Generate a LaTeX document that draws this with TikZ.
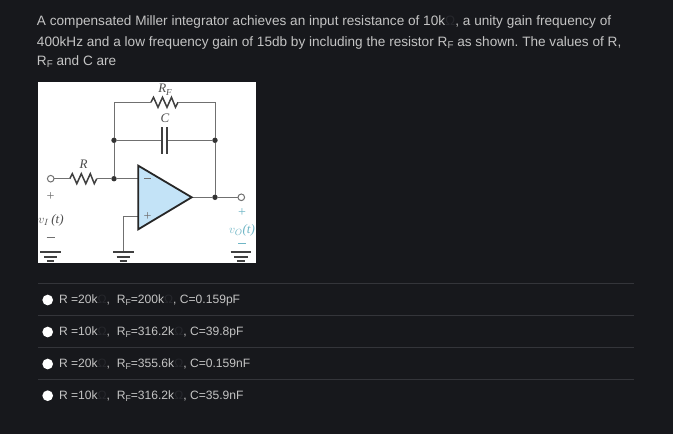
\documentclass[tikz,border=0pt]{standalone}
\usepackage{xcolor}
\usepackage{fontspec}
\setmainfont{Liberation Sans}
\newfontfamily\circuitfont{Liberation Serif}
\usetikzlibrary{positioning,%
  calc%
}
\frenchspacing
\definecolor{pagebg}{HTML}{17181C}
\definecolor{bodytext}{HTML}{C4C4C4}
\definecolor{ohmtext}{HTML}{26272C}
\definecolor{rulegrey}{HTML}{34353A}
\definecolor{wiregrey}{HTML}{707070}
\definecolor{opampblue}{HTML}{C3E3F7}
\definecolor{outteal}{HTML}{6FB6C6}
\newcommand{\rsubf}{R\raisebox{-.2em}{\scalebox{.72}{F}}}
\newcommand{\ohm}{\textcolor{ohmtext}{Ω}}
\tikzset{
  zigres/.pic={
    \coordinate (-w) at (-13.5,0);
    \coordinate (-e) at (13.5,0);
    \draw[line width=1.5pt,black!75] (-13.5,0) -- (-11,-5) -- (-6.5,5) -- (-2,-5) -- (2.5,5) -- (7,-5) -- (11,5) -- (13.5,0);
  },
  earth/.pic={
    \draw[line width=1.7pt,black!75] (-10.3,0) -- (10.3,0);
    \draw[line width=1.7pt,black!75] (-6.7,5) -- (6.7,5);
    \draw[line width=1.7pt,black!75] (-3.7,9.5) -- (3.7,9.5);
  }
}
\begin{document}
\begin{tikzpicture}
                    [
                        x=1pt,y=-1pt,
                        every node/.style={inner sep=0pt,outer sep=0pt},
                        wire/.style={draw=wiregrey,line width=1pt},
                        junction/.style={circle,fill=black!80,minimum size=5.4pt},
                        terminal/.style={circle,draw=wiregrey,fill=white,line width=1pt,minimum size=6.6pt},
                        question/.style={anchor=base west,text=bodytext,font=\fontsize{13.6}{16}\selectfont},
                        answer/.style={anchor=base west,text=bodytext,font=\fontsize{12.1}{14}\selectfont},
                        radio/.style={circle,fill=white,minimum size=10.7pt},
                        sep/.style={draw=rulegrey,line width=.7pt},
                        part/.style={text=black!70,font=\circuitfont\itshape\fontsize{13}{15}\selectfont},
                        sign/.style={text=wiregrey,font=\circuitfont\fontsize{14}{15}\selectfont}
                    ]

                    % page and white panel
                    \path[fill=pagebg] (0,0) rectangle (673,434);
                    \path[fill=white] (38,82) rectangle (256,263);
                    \useasboundingbox (0,0) rectangle (673,434);

                    \node[question] (line1) at (37,25) {A compensated Miller integrator achieves an input resistance of 10k\ohm, a unity gain frequency of};
                    \node[question] (line2) at (37,46) {400kHz and a low frequency gain of 15db by including the resistor \rsubf{} as shown. The values of R,};
                    \node[question] (line3) at (37,65) {\rsubf{} and C are};

                    % circuit
                    \coordinate (oatop) at (138.3,165.7);
                    \coordinate (oabot) at (138.3,229.3);
                    \coordinate (oatip) at (191.7,197.3);
                    \coordinate (minus) at (138.3,178.7);
                    \coordinate (plus) at (138.3,216.7);
                    \coordinate (plusc) at (123.3,216.7);
                    \coordinate (fbtl) at (114,102.3);
                    \coordinate (fbtr) at (215,102.3);
                    \coordinate (capl) at (161.7,140.3);
                    \coordinate (capr) at (167.3,140.3);
                    \coordinate (gndop) at (123.3,251.7);

                    \node[terminal] (vin) at (50.7,178.7) {};
                    \node[terminal] (vout) at (241.3,197.3) {};
                    \node[junction] (jin) at (114,178.7) {};
                    \node[junction] (jcl) at (114,140.3) {};
                    \node[junction] (jcr) at (215,140.3) {};
                    \node[junction] (jout) at (215,197.3) {};
                    \pic (rin) at (83.3,178.7) {zigres};
                    \pic (rfb) at (164.5,102.3) {zigres};

                    \draw[wire] (vin) -- (rin-w);
                    \draw[wire] (rin-e) -- (jin);
                    \draw[wire] (jin) -- (minus);
                    \draw[wire] (jin) -- (jcl);
                    \draw[wire] (jcl) -- (fbtl) -- (rfb-w);
                    \draw[wire] (rfb-e) -- (fbtr) -- (jcr);
                    \draw[wire] (jcr) -- (jout);
                    \draw[wire] (jcl) -- (capl);
                    \draw[wire] (capr) -- (jcr);
                    \draw[wire] (oatip) -- (jout);
                    \draw[wire] (jout) -- (vout);
                    \draw[wire] (plus) -- (plusc) -- (gndop);

                    \draw[line width=1.8pt,black!75] (capl)+(0,-13) -- +(0,13.4);
                    \draw[line width=1.8pt,black!75] (capr)+(0,-13) -- +(0,13.4);

                    \draw[line width=1.8pt,draw=black!85,fill=opampblue,line join=miter] (oatop) -- (oatip) -- (oabot) -- cycle;
                    \node[sign] (mns) at (147.5,178.5) {\rule{7pt}{1pt}};
                    \node[sign] (pls) at (147.5,216.5) {+};

                    \pic at (50.7,251.7) {earth};
                    \pic at (123.3,251.7) {earth};
                    \pic at (241,251.7) {earth};

                    \node[part,anchor=base] (lblrf) at (165,92.5) {R\raisebox{-.2em}{\scalebox{.7}{F}}};
                    \node[part] (lblc) at (165,118) {C};
                    \node[part] (lblr) at (83.5,164) {R};
                    \node[sign] (vip) at (50.5,197) {+};
                    \node[part] (lblvi) at (51,220.5) {$v_{I}$\,(\textit{t})};
                    \node[sign] (vim) at (50.5,237) {\rule{8pt}{.9pt}};
                    \node[sign,text=outteal] (vop) at (242,212.5) {+};
                    \node[part,text=outteal] (lblvo) at (242,230) {$v_{O}$(\textit{t})};
                    \node[sign,text=outteal] (vom) at (242,243) {\rule{8pt}{.9pt}};

                    % answers
                    \draw[sep] (38,283) -- (634,283);
                    \draw[sep] (38,315) -- (634,315);
                    \draw[sep] (38,347) -- (634,347);
                    \draw[sep] (38,379) -- (634,379);

                    \node[radio] (opta) at (47.7,300) {};
                    \node[radio] (optb) at (47.7,332) {};
                    \node[radio] (optc) at (47.7,364) {};
                    \node[radio] (optd) at (47.7,395.7) {};

                    \node[answer] (txta) at (59,303) {R =20k\ohm, \ \rsubf=200k\ohm, C=0.159pF};
                    \node[answer] (txtb) at (59,335) {R =10k\ohm, \ \rsubf=316.2k\ohm, C=39.8pF};
                    \node[answer] (txtc) at (59,367) {R =20k\ohm, \ \rsubf=355.6k\ohm, C=0.159nF};
                    \node[answer] (txtd) at (59,399) {R =10k\ohm, \ \rsubf=316.2k\ohm, C=35.9nF};
                \end{tikzpicture}
\end{document}
